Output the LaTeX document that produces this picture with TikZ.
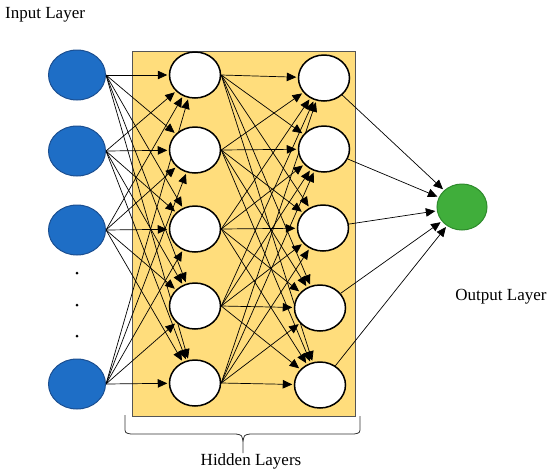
\documentclass[tikz,border=0pt]{standalone}
\usepackage{fontspec}
\setmainfont{Liberation Serif}
\usetikzlibrary{shapes.geometric,arrows.meta}
\pgfdeclarelayer{bg}
\pgfdeclarelayer{edges}
\pgfsetlayers{bg,edges,main}
\definecolor{inblue}{HTML}{1E6EC6}
\definecolor{inblueborder}{HTML}{1B4F91}
\definecolor{outgreen}{HTML}{40AE3B}
\definecolor{outgreenborder}{HTML}{2E8A2C}
\definecolor{boxyellow}{HTML}{FFDD7C}
\definecolor{boxborder}{HTML}{555555}
\tikzset{
  inputnode/.style={ellipse, draw=inblueborder, fill=inblue, line width=1pt, minimum width=57pt, minimum height=50pt, inner sep=0pt},
  hiddennode/.style={ellipse, draw=black, fill=white, line width=1.5pt, minimum width=51pt, minimum height=46pt, inner sep=0pt},
  outputnode/.style={ellipse, draw=outgreenborder, fill=outgreen, line width=1pt, minimum width=50pt, minimum height=46pt, inner sep=0pt},
  link/.style={draw=black, line width=0.7pt, -{Triangle[length=9.5pt,width=8.5pt]}, shorten >=1.5pt},
  label/.style={font=\fontsize{17}{20}\selectfont, inner sep=0pt},
  dotmark/.style={circle, fill=black, inner sep=0pt, minimum size=3pt},
  hiddenbox/.style={fill=boxyellow, draw=boxborder, line width=0.8pt},
  bracepath/.style={draw=black!80, line width=0.8pt}
}
\begin{document}
\begin{tikzpicture}[x=1pt,y=-1pt]
\useasboundingbox (0,0) rectangle (550,475);

% input layer
\node[inputnode] (in1) at (77,75) {};
\node[inputnode] (in2) at (77,151) {};
\node[inputnode] (in3) at (77,230) {};
\node[inputnode] (in4) at (77,384) {};
\node[dotmark] (d1) at (77,273) {};
\node[dotmark] (d2) at (77,305) {};
\node[dotmark] (d3) at (77,336) {};

% hidden layer 1
\node[hiddennode] (ha1) at (195,75) {};
\node[hiddennode] (ha2) at (195,150) {};
\node[hiddennode] (ha3) at (195,229) {};
\node[hiddennode] (ha4) at (195,306) {};
\node[hiddennode] (ha5) at (195,383) {};

% hidden layer 2
\node[hiddennode] (hb1) at (324,78) {};
\node[hiddennode] (hb2) at (324,149) {};
\node[hiddennode] (hb3) at (323,228) {};
\node[hiddennode] (hb4) at (320,308) {};
\node[hiddennode] (hb5) at (320,385) {};

% output
\node[outputnode] (out) at (462,207) {};

% labels
\node[label, anchor=west] (lin) at (5,15) {Input Layer};
\node[label] (lout) at (501,297) {Output Layer};
\node[label] (lhid) at (251,461) {Hidden Layers};

\begin{pgfonlayer}{bg}
  \path[hiddenbox] (132,51) rectangle (355,416);
\end{pgfonlayer}

\begin{pgfonlayer}{edges}
  \foreach \i in {1,...,4}{
    \foreach \j in {1,...,5}{
      \draw[link] (in\i.east) -- (ha\j);
    }
  }
  \foreach \i in {1,...,5}{
    \foreach \j in {1,...,5}{
      \draw[link] (ha\i.east) -- (hb\j);
    }
  }
  \foreach \i in {1,...,5}{
    \draw[link] (hb\i) -- (out);
  }
\end{pgfonlayer}

% brace
\draw[bracepath] (125,415) -- (125,427) .. controls (125,433) .. (131,434) -- (236,434)
  .. controls (242,435) .. (243,442) -- (243,453)
  (243,442) .. controls (244,435) .. (250,434) -- (354,434)
  .. controls (360,433) .. (360,427) -- (360,416);
\end{tikzpicture}
\end{document}
